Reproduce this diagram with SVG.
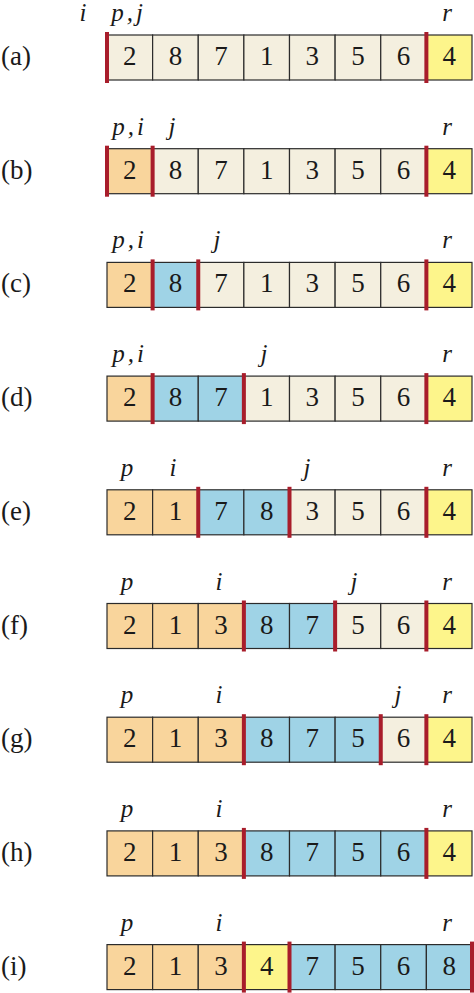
<svg xmlns="http://www.w3.org/2000/svg" width="474" height="993" viewBox="0 0 474 993">
<style>
.c{stroke:#2b2b2b;stroke-width:1.2}
.T{fill:#f4efdf}.O{fill:#f9d59c}.B{fill:#9fd3e6}.Y{fill:#fdf58b}
.n{font-family:"Liberation Serif","Times New Roman",serif;font-size:27px;fill:#1a1a1a;text-anchor:middle}
.l{font-family:"Liberation Serif","Times New Roman",serif;font-size:27px;fill:#1a1a1a}
.v{font-family:"Liberation Serif","Times New Roman",serif;font-style:italic;font-size:25px;fill:#1a1a1a;text-anchor:middle}
.w{letter-spacing:3px}
.r{fill:#a81d2b}
</style>
<defs>
<rect id="bar" class="r" x="-2" y="-3" width="4" height="51"/>
</defs>
<g id="row-a" transform="translate(0,35)">
<text class="l" x="1" y="30">(a)</text>
<rect class="c T" x="107" y="0" width="45.625" height="45"/><rect class="c T" x="152.625" y="0" width="45.625" height="45"/><rect class="c T" x="198.25" y="0" width="45.625" height="45"/><rect class="c T" x="243.875" y="0" width="45.625" height="45"/><rect class="c T" x="289.5" y="0" width="45.625" height="45"/><rect class="c T" x="335.125" y="0" width="45.625" height="45"/><rect class="c T" x="380.75" y="0" width="45.625" height="45"/><rect class="c Y" x="426.375" y="0" width="45.625" height="45"/>
<text class="n" x="129.8" y="30">2</text><text class="n" x="175.4" y="30">8</text><text class="n" x="221.1" y="30">7</text><text class="n" x="266.7" y="30">1</text><text class="n" x="312.3" y="30">3</text><text class="n" x="357.9" y="30">5</text><text class="n" x="403.6" y="30">6</text><text class="n" x="449.2" y="30">4</text>
<use href="#bar" x="107"/><use href="#bar" x="426.375"/>
<text class="v" x="83" y="-14">i</text><text class="v w" x="128.5" y="-14">p,j</text><text class="v" x="447" y="-14">r</text>
</g>
<g id="row-b" transform="translate(0,148.7)">
<text class="l" x="1" y="30">(b)</text>
<rect class="c O" x="107" y="0" width="45.625" height="45"/><rect class="c T" x="152.625" y="0" width="45.625" height="45"/><rect class="c T" x="198.25" y="0" width="45.625" height="45"/><rect class="c T" x="243.875" y="0" width="45.625" height="45"/><rect class="c T" x="289.5" y="0" width="45.625" height="45"/><rect class="c T" x="335.125" y="0" width="45.625" height="45"/><rect class="c T" x="380.75" y="0" width="45.625" height="45"/><rect class="c Y" x="426.375" y="0" width="45.625" height="45"/>
<text class="n" x="129.8" y="30">2</text><text class="n" x="175.4" y="30">8</text><text class="n" x="221.1" y="30">7</text><text class="n" x="266.7" y="30">1</text><text class="n" x="312.3" y="30">3</text><text class="n" x="357.9" y="30">5</text><text class="n" x="403.6" y="30">6</text><text class="n" x="449.2" y="30">4</text>
<use href="#bar" x="107"/><use href="#bar" x="152.625"/><use href="#bar" x="426.375"/>
<text class="v w" x="129.5" y="-14">p,i</text><text class="v" x="172" y="-14">j</text><text class="v" x="447" y="-14">r</text>
</g>
<g id="row-c" transform="translate(0,262.4)">
<text class="l" x="1" y="30">(c)</text>
<rect class="c O" x="107" y="0" width="45.625" height="45"/><rect class="c B" x="152.625" y="0" width="45.625" height="45"/><rect class="c T" x="198.25" y="0" width="45.625" height="45"/><rect class="c T" x="243.875" y="0" width="45.625" height="45"/><rect class="c T" x="289.5" y="0" width="45.625" height="45"/><rect class="c T" x="335.125" y="0" width="45.625" height="45"/><rect class="c T" x="380.75" y="0" width="45.625" height="45"/><rect class="c Y" x="426.375" y="0" width="45.625" height="45"/>
<text class="n" x="129.8" y="30">2</text><text class="n" x="175.4" y="30">8</text><text class="n" x="221.1" y="30">7</text><text class="n" x="266.7" y="30">1</text><text class="n" x="312.3" y="30">3</text><text class="n" x="357.9" y="30">5</text><text class="n" x="403.6" y="30">6</text><text class="n" x="449.2" y="30">4</text>
<use href="#bar" x="152.625"/><use href="#bar" x="198.25"/><use href="#bar" x="426.375"/>
<text class="v w" x="129.5" y="-14">p,i</text><text class="v" x="217" y="-14">j</text><text class="v" x="447" y="-14">r</text>
</g>
<g id="row-d" transform="translate(0,376.1)">
<text class="l" x="1" y="30">(d)</text>
<rect class="c O" x="107" y="0" width="45.625" height="45"/><rect class="c B" x="152.625" y="0" width="45.625" height="45"/><rect class="c B" x="198.25" y="0" width="45.625" height="45"/><rect class="c T" x="243.875" y="0" width="45.625" height="45"/><rect class="c T" x="289.5" y="0" width="45.625" height="45"/><rect class="c T" x="335.125" y="0" width="45.625" height="45"/><rect class="c T" x="380.75" y="0" width="45.625" height="45"/><rect class="c Y" x="426.375" y="0" width="45.625" height="45"/>
<text class="n" x="129.8" y="30">2</text><text class="n" x="175.4" y="30">8</text><text class="n" x="221.1" y="30">7</text><text class="n" x="266.7" y="30">1</text><text class="n" x="312.3" y="30">3</text><text class="n" x="357.9" y="30">5</text><text class="n" x="403.6" y="30">6</text><text class="n" x="449.2" y="30">4</text>
<use href="#bar" x="152.625"/><use href="#bar" x="243.875"/><use href="#bar" x="426.375"/>
<text class="v w" x="129.5" y="-14">p,i</text><text class="v" x="264" y="-14">j</text><text class="v" x="447" y="-14">r</text>
</g>
<g id="row-e" transform="translate(0,489.8)">
<text class="l" x="1" y="30">(e)</text>
<rect class="c O" x="107" y="0" width="45.625" height="45"/><rect class="c O" x="152.625" y="0" width="45.625" height="45"/><rect class="c B" x="198.25" y="0" width="45.625" height="45"/><rect class="c B" x="243.875" y="0" width="45.625" height="45"/><rect class="c T" x="289.5" y="0" width="45.625" height="45"/><rect class="c T" x="335.125" y="0" width="45.625" height="45"/><rect class="c T" x="380.75" y="0" width="45.625" height="45"/><rect class="c Y" x="426.375" y="0" width="45.625" height="45"/>
<text class="n" x="129.8" y="30">2</text><text class="n" x="175.4" y="30">1</text><text class="n" x="221.1" y="30">7</text><text class="n" x="266.7" y="30">8</text><text class="n" x="312.3" y="30">3</text><text class="n" x="357.9" y="30">5</text><text class="n" x="403.6" y="30">6</text><text class="n" x="449.2" y="30">4</text>
<use href="#bar" x="198.25"/><use href="#bar" x="289.5"/><use href="#bar" x="426.375"/>
<text class="v" x="127" y="-14">p</text><text class="v" x="173" y="-14">i</text><text class="v" x="307" y="-14">j</text><text class="v" x="447" y="-14">r</text>
</g>
<g id="row-f" transform="translate(0,603.5)">
<text class="l" x="1" y="30">(f)</text>
<rect class="c O" x="107" y="0" width="45.625" height="45"/><rect class="c O" x="152.625" y="0" width="45.625" height="45"/><rect class="c O" x="198.25" y="0" width="45.625" height="45"/><rect class="c B" x="243.875" y="0" width="45.625" height="45"/><rect class="c B" x="289.5" y="0" width="45.625" height="45"/><rect class="c T" x="335.125" y="0" width="45.625" height="45"/><rect class="c T" x="380.75" y="0" width="45.625" height="45"/><rect class="c Y" x="426.375" y="0" width="45.625" height="45"/>
<text class="n" x="129.8" y="30">2</text><text class="n" x="175.4" y="30">1</text><text class="n" x="221.1" y="30">3</text><text class="n" x="266.7" y="30">8</text><text class="n" x="312.3" y="30">7</text><text class="n" x="357.9" y="30">5</text><text class="n" x="403.6" y="30">6</text><text class="n" x="449.2" y="30">4</text>
<use href="#bar" x="243.875"/><use href="#bar" x="335.125"/><use href="#bar" x="426.375"/>
<text class="v" x="127" y="-14">p</text><text class="v" x="219" y="-14">i</text><text class="v" x="354" y="-14">j</text><text class="v" x="447" y="-14">r</text>
</g>
<g id="row-g" transform="translate(0,717.2)">
<text class="l" x="1" y="30">(g)</text>
<rect class="c O" x="107" y="0" width="45.625" height="45"/><rect class="c O" x="152.625" y="0" width="45.625" height="45"/><rect class="c O" x="198.25" y="0" width="45.625" height="45"/><rect class="c B" x="243.875" y="0" width="45.625" height="45"/><rect class="c B" x="289.5" y="0" width="45.625" height="45"/><rect class="c B" x="335.125" y="0" width="45.625" height="45"/><rect class="c T" x="380.75" y="0" width="45.625" height="45"/><rect class="c Y" x="426.375" y="0" width="45.625" height="45"/>
<text class="n" x="129.8" y="30">2</text><text class="n" x="175.4" y="30">1</text><text class="n" x="221.1" y="30">3</text><text class="n" x="266.7" y="30">8</text><text class="n" x="312.3" y="30">7</text><text class="n" x="357.9" y="30">5</text><text class="n" x="403.6" y="30">6</text><text class="n" x="449.2" y="30">4</text>
<use href="#bar" x="243.875"/><use href="#bar" x="380.75"/><use href="#bar" x="426.375"/>
<text class="v" x="127" y="-14">p</text><text class="v" x="219" y="-14">i</text><text class="v" x="398" y="-14">j</text><text class="v" x="447" y="-14">r</text>
</g>
<g id="row-h" transform="translate(0,830.9)">
<text class="l" x="1" y="30">(h)</text>
<rect class="c O" x="107" y="0" width="45.625" height="45"/><rect class="c O" x="152.625" y="0" width="45.625" height="45"/><rect class="c O" x="198.25" y="0" width="45.625" height="45"/><rect class="c B" x="243.875" y="0" width="45.625" height="45"/><rect class="c B" x="289.5" y="0" width="45.625" height="45"/><rect class="c B" x="335.125" y="0" width="45.625" height="45"/><rect class="c B" x="380.75" y="0" width="45.625" height="45"/><rect class="c Y" x="426.375" y="0" width="45.625" height="45"/>
<text class="n" x="129.8" y="30">2</text><text class="n" x="175.4" y="30">1</text><text class="n" x="221.1" y="30">3</text><text class="n" x="266.7" y="30">8</text><text class="n" x="312.3" y="30">7</text><text class="n" x="357.9" y="30">5</text><text class="n" x="403.6" y="30">6</text><text class="n" x="449.2" y="30">4</text>
<use href="#bar" x="243.875"/><use href="#bar" x="426.375"/>
<text class="v" x="127" y="-14">p</text><text class="v" x="219" y="-14">i</text><text class="v" x="447" y="-14">r</text>
</g>
<g id="row-i" transform="translate(0,944.6)">
<text class="l" x="1" y="30">(i)</text>
<rect class="c O" x="107" y="0" width="45.625" height="45"/><rect class="c O" x="152.625" y="0" width="45.625" height="45"/><rect class="c O" x="198.25" y="0" width="45.625" height="45"/><rect class="c Y" x="243.875" y="0" width="45.625" height="45"/><rect class="c B" x="289.5" y="0" width="45.625" height="45"/><rect class="c B" x="335.125" y="0" width="45.625" height="45"/><rect class="c B" x="380.75" y="0" width="45.625" height="45"/><rect class="c B" x="426.375" y="0" width="45.625" height="45"/>
<text class="n" x="129.8" y="30">2</text><text class="n" x="175.4" y="30">1</text><text class="n" x="221.1" y="30">3</text><text class="n" x="266.7" y="30">4</text><text class="n" x="312.3" y="30">7</text><text class="n" x="357.9" y="30">5</text><text class="n" x="403.6" y="30">6</text><text class="n" x="449.2" y="30">8</text>
<use href="#bar" x="243.875"/><use href="#bar" x="289.5"/><use href="#bar" x="472"/>
<text class="v" x="127" y="-14">p</text><text class="v" x="219" y="-14">i</text><text class="v" x="447" y="-14">r</text>
</g>
</svg>
